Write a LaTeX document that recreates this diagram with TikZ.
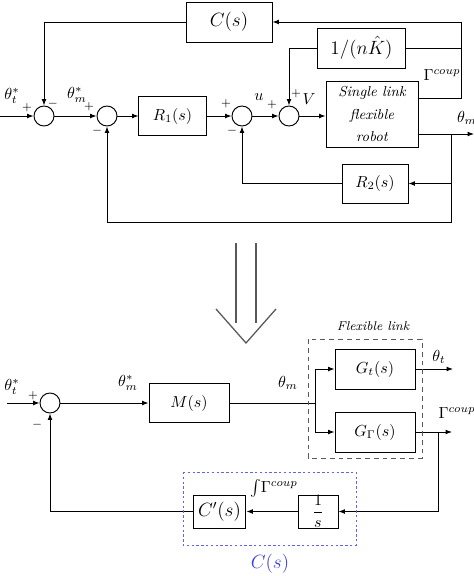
\documentclass[tikz,border=0pt]{standalone}
\usetikzlibrary{arrows.meta}
\definecolor{cblue}{RGB}{60,60,225}
\begin{document}
\begin{tikzpicture}[x=0.625pt,y=-0.625pt,>={Latex[length=4pt,width=3pt]},line width=0.6pt]
\tikzstyle{block} = [draw, rectangle, inner sep=0pt] % transfer function block
\tikzstyle{sum} = [draw, circle, minimum size=12.5pt, inner sep=0pt] % summing junction
\tikzstyle{sgn} = [font=\scriptsize, inner sep=0pt] % signs at the junctions
\tikzstyle{lbl} = [inner sep=0pt] % signal names
\useasboundingbox (0,0) rectangle (474,576);
%
% upper diagram
\node[sum] (s1) at (44,116) {};
\node[sum] (s2) at (107,116) {};
\node[block, minimum width=41.9pt, minimum height=24.4pt] (R1) at (172.5,116) {$R_1(s)$};
\node[sum] (s3) at (242,116) {};
\node[sum] (s4) at (289,116) {};
\node[block, minimum width=57.5pt, minimum height=41.25pt, align=center, font=\small\itshape] (robot) at (372,114)
	{Single link\\[3pt] flexible\\[3pt] robot};
\node[block, minimum width=54.4pt, minimum height=25pt, font=\large] (K) at (361.5,48) {$1/(n\hat{K})$};
\node[block, minimum width=53.75pt, minimum height=25pt, font=\large] (C) at (229,22) {$C(s)$};
\node[block, minimum width=41.25pt, minimum height=24.4pt] (R2) at (375,183.5) {$R_2(s)$};
\coordinate (in1) at (0,116);
\coordinate (gc) at (461,98);
\coordinate (tm) at (451,134);
\coordinate (out1) at (474,134);
\coordinate (fb) at (451,222);
%
\draw[->] (in1) -- (s1);
\draw[->] (s1) -- (s2);
\draw[->] (s2) -- (R1);
\draw[->] (R1) -- (s3);
\draw[->] (s3) -- (s4);
\draw[->] (s4) -- (s4 -| robot.west);
\draw[->] (robot.east |- gc) -- (gc) |- (C.east);
\draw (gc |- K) -- (K.east);
\draw[->] (K.west) -| (s4.north);
\draw[->] (C.west) -| (s1.north);
\draw[->] (robot.east |- tm) -- (out1);
\draw[->] (tm |- R2) -- (R2.east);
\draw[->] (R2.west) -| (s3.south);
\draw[->] (tm) -- (fb) -| (s2.south);
%
\node[lbl] at (12,96) {$\theta_t^*$};
\node[sgn] at (27,108) {$+$};
\node[sgn] at (53,104) {$-$};
\node[lbl] at (77,95) {$\theta_m^*$};
\node[sgn] at (89,107) {$+$};
\node[sgn] at (97,131) {$-$};
\node[sgn] at (226,104) {$+$};
\node[sgn] at (232,131) {$-$};
\node[lbl] at (259,97) {$u$};
\node[sgn] at (272,105) {$+$};
\node[sgn] at (296,94) {$+$};
\node[lbl] at (309,99) {$V$};
\node[lbl] at (442,75) {$\Gamma^{coup}$};
\node[lbl] at (467,118) {$\theta_m$};
%
% double arrow
\draw[line width=0.8pt, gray!70!black] (236,243) -- (236,323);
\draw[line width=0.8pt, gray!70!black] (256,243) -- (256,323);
\draw[line width=0.8pt, gray!70!black] (216,309) -- (246,343) -- (276,309);
%
% lower diagram
\node[sum] (s5) at (50,403) {};
\node[block, minimum width=50pt, minimum height=24.4pt] (M) at (189,403) {$M(s)$};
\node[block, minimum width=50pt, minimum height=25pt] (Gt) at (375,369) {$G_t(s)$};
\node[block, minimum width=50pt, minimum height=25pt] (GG) at (375,432) {$G_\Gamma(s)$};
\node[block, minimum width=33pt, minimum height=20.6pt] (Cp) at (219.5,511.5) {\large$C'(s)$};
\node[block, minimum width=25pt, minimum height=20.6pt] (inv) at (318,511.5) {$\displaystyle\frac{1}{s}$};
\coordinate (in2) at (7,403);
\coordinate (br) at (315,403);
\coordinate (ot) at (453,369);
\coordinate (og) at (452,432);
\coordinate (gb) at (438,432);
%
\draw[->] (in2) -- (s5);
\draw[->] (s5) -- (M);
\draw (M) -- (br);
\draw[->] (br) |- (Gt.west);
\draw[->] (br) |- (GG.west);
\draw[->] (Gt) -- (ot);
\draw[->] (GG) -- (og);
\draw[->] (gb) |- (inv.east);
\draw[->] (inv) -- (Cp);
\draw[->] (Cp.west) -| (s5.south);
%
\draw[dashed, gray!70!black, dash pattern=on 3pt off 2.5pt] (308,339) rectangle (422,458);
\draw[cblue!80, dash pattern=on 1.5pt off 1.5pt] (183,472) rectangle (356,545);
%
\node[lbl] at (12,387) {$\theta_t^*$};
\node[sgn] at (33,396) {$+$};
\node[sgn] at (37,425) {$-$};
\node[lbl] at (128,383) {$\theta_m^*$};
\node[lbl] at (288,383) {$\theta_m$};
\node[lbl, font=\footnotesize\itshape] at (373,326) {Flexible link};
\node[lbl] at (439,357) {$\theta_t$};
\node[lbl] at (457,413) {$\Gamma^{coup}$};
\node[lbl] at (274,488) {$\int\!\Gamma^{coup}$};
\node[lbl, text=cblue, font=\large] at (270,564) {$C(s)$};
\end{tikzpicture}
\end{document}
